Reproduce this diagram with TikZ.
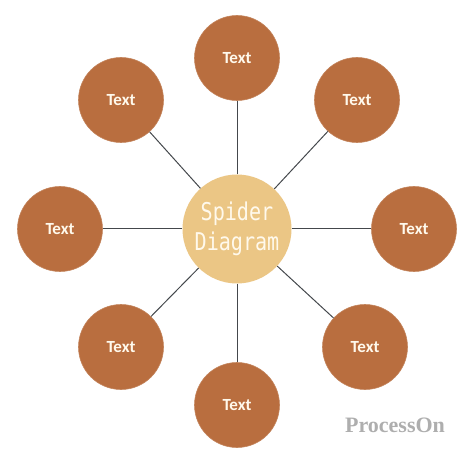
\documentclass[tikz,border=0pt]{standalone}
\usepackage{fontspec}
\newfontfamily\leaffont{Carlito}
\newfontfamily\spiderfont[FakeStretch=0.82]{DejaVu Sans Mono}
\newfontfamily\wmfont{Liberation Serif}
\definecolor{outerfill}{HTML}{B96E3F}
\definecolor{centerfill}{HTML}{EBC685}
\definecolor{spoke}{HTML}{44484C}
\definecolor{cream}{HTML}{FFF9EC}
\definecolor{wmgray}{HTML}{AEAEAE}
\tikzset{
  leaf/.style={circle, fill=outerfill, draw=outerfill!85!white, line width=0.6pt, minimum size=85pt, inner sep=0pt,
    text=cream, font=\leaffont\bfseries\fontsize{17}{20}\selectfont},
  hub/.style={circle, fill=centerfill, minimum size=109pt, inner sep=0pt, text=cream, align=center,
    font=\spiderfont\fontsize{24.5}{30}\selectfont},
  spokeline/.style={draw=spoke, line width=1pt},
  watermark/.style={text=wmgray, font=\wmfont\bfseries\fontsize{22}{26}\selectfont}
}
\begin{document}
\begin{tikzpicture}[x=1pt,y=-1pt]
\useasboundingbox (0,0) rectangle (474,465);
\coordinate (c) at (237,229);
\node[hub] (hub) at (c) {Spider\\Diagram};
\node[leaf] (n) at (237,58) {Text};
\node[leaf] (nw) at (121,100) {Text};
\node[leaf] (ne) at (357,100) {Text};
\node[leaf] (w) at (60,229) {Text};
\node[leaf] (e) at (414,229) {Text};
\node[leaf] (sw) at (121,347) {Text};
\node[leaf] (se) at (365,347) {Text};
\node[leaf] (s) at (237,405) {Text};
\foreach \t in {n,nw,ne,w,e,sw,se,s}{
  \draw[spokeline] (hub) -- (\t);
}
\node[watermark] (wm) at (395,425) {ProcessOn};
\end{tikzpicture}
\end{document}
